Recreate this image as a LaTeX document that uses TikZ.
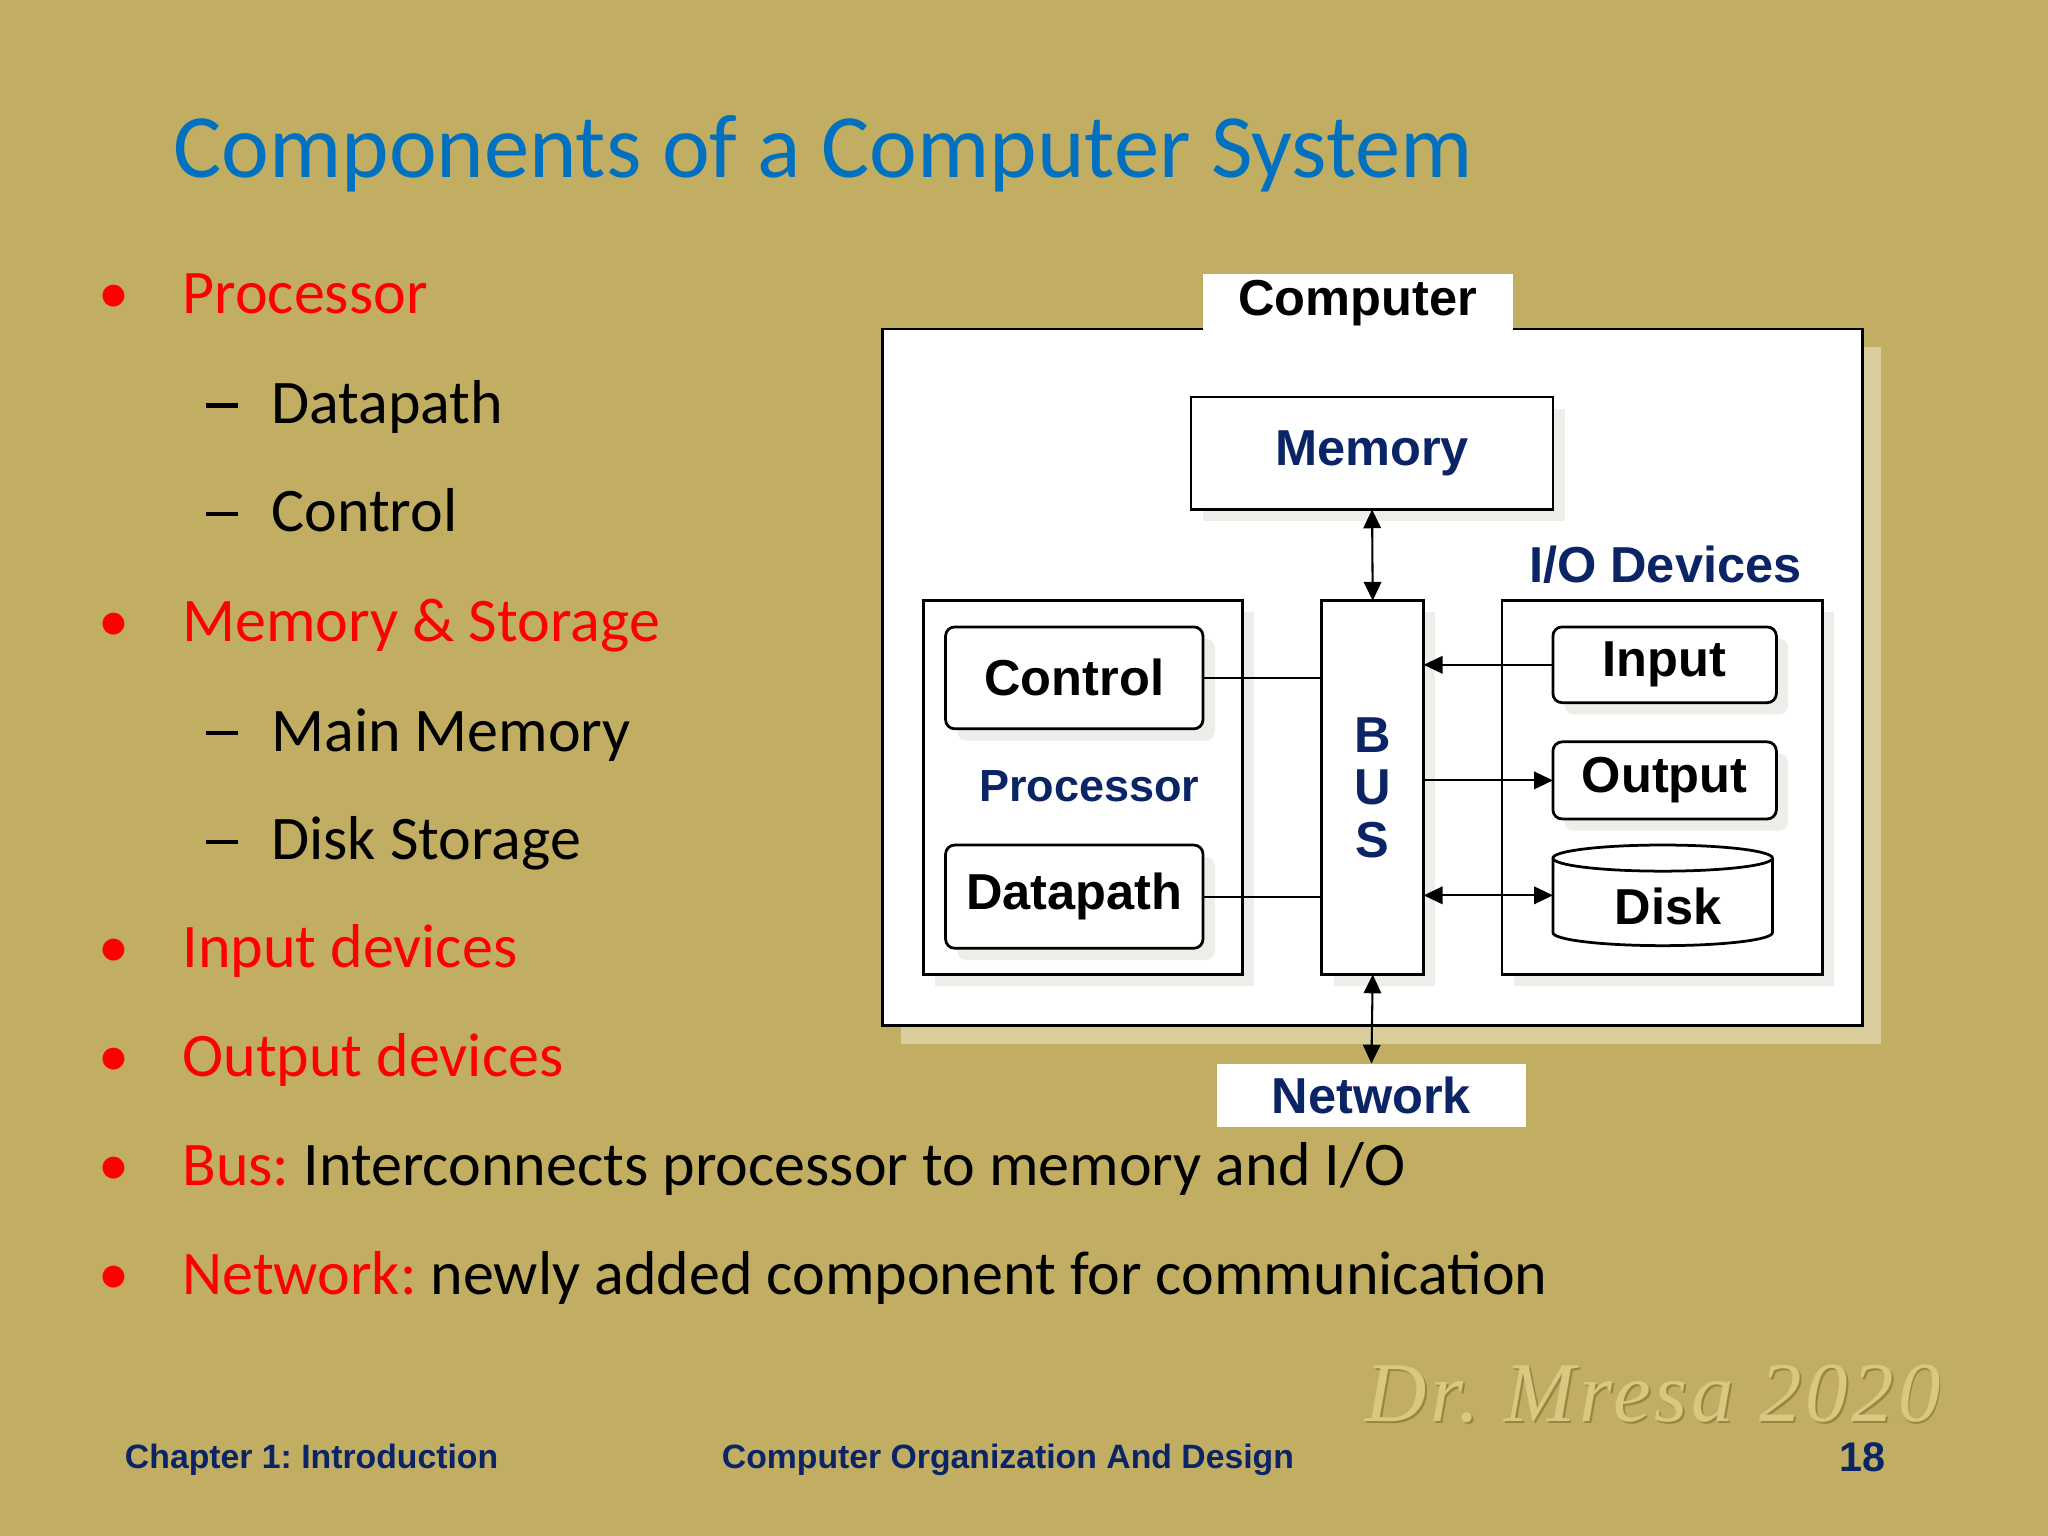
\documentclass[tikz,border=0pt]{standalone}
\usepackage{fontspec}
\usetikzlibrary{arrows.meta,shadows}
\newfontfamily\carlito{Carlito}
\newfontfamily\lsans{Liberation Sans}
\newfontfamily\lserif{Liberation Serif}
\definecolor{bgc}{HTML}{C1AE62}
\definecolor{titleblue}{HTML}{0070C0}
\definecolor{navy}{HTML}{0B2466}
\definecolor{inshadow}{HTML}{EEEDEA}
\definecolor{outshadow}{HTML}{DACD9C}
\definecolor{wmfill}{HTML}{D9C880}
\definecolor{wmline}{HTML}{9A8640}
\newcommand{\sdash}{\rule[3.4pt]{7pt}{0.9pt}}
\frenchspacing
\begin{document}
\begin{tikzpicture}[x=0.01cm,y=-0.01cm,
  box/.style={draw=black, line width=0.6pt, fill=white, inner sep=0pt, outer sep=0pt},
  rbox/.style={box, rounded corners=2pt},
  shad/.style={drop shadow={shadow xshift=0.09cm, shadow yshift=-0.09cm, fill=inshadow, opacity=1}},
  oshad/.style={drop shadow={shadow xshift=0.14cm, shadow yshift=-0.14cm, fill=outshadow, opacity=1}},
  dg/.style={font=\lsans\bfseries\fontsize{11}{13}\selectfont},
  dgs/.style={font=\lsans\bfseries\fontsize{9.8}{12}\selectfont},
  conn/.style={line width=0.45pt, draw=black},
  atip/.tip={Triangle[length=4.1pt,width=3.8pt]},
  bt/.style={anchor=base west, inner sep=0pt, font=\carlito\fontsize{13.5}{16}\selectfont},
  bul/.style={anchor=base, inner sep=0pt, text=red, font=\carlito\fontsize{13.5}{16}\selectfont},
  ft/.style={anchor=base west, inner sep=0pt, text=navy, font=\lsans\bfseries\fontsize{7.35}{9}\selectfont}
]
% background
\fill[bgc] (0,0) rectangle (1568,1176);
\useasboundingbox (0,0) rectangle (1568,1176);

% title
\node[anchor=base west, inner sep=0pt, text=titleblue, font=\carlito\fontsize{19.7}{24}\selectfont] (title) at (132,136) {Components of a Computer System};

% bullets
\node[bul] (b1) at (87,240) {•};
\node[bt, text=red] (t1) at (139,240) {Processor};
\node[bt] (d1) at (157,324) {\sdash};
\node[bt] (t2) at (207,324) {Datapath};
\node[bt] (d2) at (157,407) {\sdash};
\node[bt] (t3) at (207,407) {Control};
\node[bul] (b2) at (87,491) {•};
\node[bt, text=red] (t4) at (139,491) {Memory \& Storage};
\node[bt] (d3) at (157,575) {\sdash};
\node[bt] (t5) at (207,575) {Main Memory};
\node[bt] (d4) at (157,658) {\sdash};
\node[bt] (t6) at (207,658) {Disk Storage};
\node[bul] (b3) at (87,741) {•};
\node[bt, text=red] (t7) at (139,741) {Input devices};
\node[bul] (b4) at (87,824) {•};
\node[bt, text=red] (t8) at (139,824) {Output devices};
\node[bul] (b5) at (87,908) {•};
\node[bt] (t9) at (139,908) {\textcolor{red}{Bus:} Interconnects processor to memory and I/O};
\node[bul] (b6) at (87,991) {•};
\node[bt] (t10) at (139,991) {\textcolor{red}{Network:} newly added component for communication};

% diagram
\node[box, oshad, minimum width=7.5cm, minimum height=5.33cm] (comp) at (1051,518.5) {};
\node[fill=white, inner sep=0pt, minimum width=2.37cm, minimum height=0.44cm, dg] (complbl) at (1039.5,232) {\raisebox{-0.03cm}{Computer}};
\node[box, shad, minimum width=2.77cm, minimum height=0.86cm, dg, text=navy] (mem) at (1050.5,347) {Memory};
\node[dg, text=navy, inner sep=0pt] (iolbl) at (1275,432) {I/O Devices};
\node[box, shad, minimum width=2.44cm, minimum height=2.86cm] (proc) at (829,603) {};
\node[rbox, shad, minimum width=1.97cm, minimum height=0.78cm, dg] (ctrl) at (822.5,519) {Control};
\node[dgs, text=navy, inner sep=0pt] (proclbl) at (834,602) {Processor};
\node[rbox, shad, minimum width=1.97cm, minimum height=0.79cm, dg] (dp) at (822.5,686.5) {Datapath};
\node[box, shad, minimum width=0.78cm, minimum height=2.86cm, text=navy, align=center, font=\lsans\bfseries\fontsize{11}{11.4}\selectfont] (bus) at (1051,603) {B\\U\\S};
\node[box, shad, minimum width=2.45cm, minimum height=2.86cm] (io) at (1272.5,603) {};
\node[rbox, shad, minimum width=1.71cm, minimum height=0.58cm, dg] (inp) at (1274.5,509) {Input};
\node[rbox, shad, minimum width=1.71cm, minimum height=0.59cm, dg] (outp) at (1274.5,597.5) {Output};
\node[inner sep=0pt, outer sep=0pt, minimum width=1.68cm, minimum height=0.77cm, dg] (disk) at (1273,685.5) {};
\draw[line width=0.6pt, fill=white] ([yshift=-0.1cm]disk.north west) -- ([yshift=0.1cm]disk.south west)
  arc[start angle=180, end angle=360, x radius=0.84cm, y radius=0.1cm]
  -- ([yshift=-0.1cm]disk.north east)
  arc[start angle=0, end angle=180, x radius=0.84cm, y radius=0.1cm] -- cycle;
\draw[line width=0.6pt] ([yshift=-0.1cm]disk.north west) arc[start angle=180, end angle=360, x radius=0.84cm, y radius=0.1cm];
\node[dg, inner sep=0pt] (disktxt) at (1277,694) {Disk};
\node[fill=white, inner sep=0pt, minimum width=2.36cm, minimum height=0.48cm, dg, text=navy] (net) at (1050,839) {Network};

% connectors
\draw[conn] (ctrl.east) -- (ctrl.east -| bus.west);
\draw[conn] (dp.east) -- (dp.east -| bus.west);
\draw[conn, -atip] (inp.west) -- (inp.west -| bus.east);
\draw[conn, -atip] (outp.west -| bus.east) -- (outp.west);
\draw[conn, atip-atip] (disk.west -| bus.east) -- (disk.west);
\draw[conn, atip-atip] (mem.south) -- (bus.north);
\draw[conn, atip-atip] (bus.south) -- (net.north);

% watermark
\node[anchor=base west, inner sep=0pt, text=wmline, font=\lserif\itshape\fontsize{18.5}{22}\selectfont] (wm0) at (1046.5,1089.5) {\addfontfeatures{LetterSpace=4.5}Dr.\ Mresa 2020};
\node[anchor=base west, inner sep=0pt, text=wmfill, font=\lserif\itshape\fontsize{18.5}{22}\selectfont] (wm) at (1045,1088) {\addfontfeatures{LetterSpace=4.5}Dr.\ Mresa 2020};

% footer
\node[ft] (f1) at (95,1124) {Chapter 1: Introduction};
\node[ft] (f2) at (552,1124) {Computer Organization And Design};
\node[anchor=base east, inner sep=0pt, text=navy, font=\lsans\bfseries\fontsize{9}{11}\selectfont] (f3) at (1444,1127) {18};
\end{tikzpicture}
\end{document}
